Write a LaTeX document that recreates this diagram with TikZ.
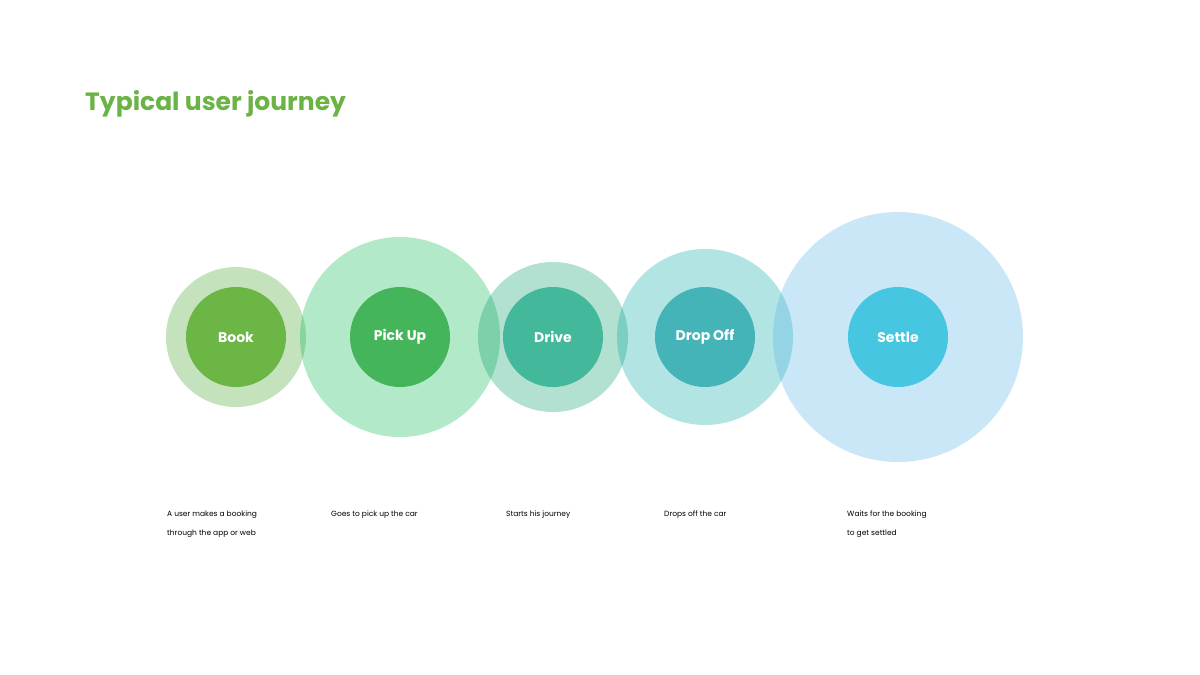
\documentclass[tikz,border=0pt]{standalone}
\usepackage{fontspec}
\setmainfont{Poppins}
\definecolor{tgreen}{HTML}{6AB344}
\begin{document}
\begin{tikzpicture}[x=1pt,y=-1pt,
  halo/.style={circle,fill opacity=0.3,inner sep=0pt,minimum size=#1},
  core/.style={circle,inner sep=0pt,minimum size=100pt,text=white,font=\bfseries\fontsize{14}{16}\selectfont},
  desc/.style={anchor=north west,align=left,inner sep=0pt,font=\fontsize{7.5}{18.5}\selectfont}]
\useasboundingbox (0,0) rectangle (1200,675);
\node[anchor=base west,inner sep=0pt,text=tgreen,font=\bfseries\fontsize{25}{30}\selectfont] (title) at (85,110) {Typical user journey};
\node[halo=140pt,fill=tgreen!70!green!80!black] (hb) at (236,337) {};
\node[halo=200pt,fill=green!60!black!70!cyan] (hp) at (400,337) {};
\node[halo=150pt,fill=teal!80!green] (hd) at (553,337) {};
\node[halo=176pt,fill=teal!70!cyan] (ho) at (705,337) {};
\node[halo=250pt,fill=cyan!80!blue!70!white] (hs) at (898,337) {};
\node[core,fill={rgb,255:red,107;green,182;blue,68}] (book) at (236,337) {Book};
\node[core,fill={rgb,255:red,69;green,181;blue,92}] (pick) at (400,337) {Pick Up};
\node[core,fill={rgb,255:red,68;green,184;blue,154}] (drive) at (553,337) {Drive};
\node[core,fill={rgb,255:red,69;green,180;blue,184}] (drop) at (705,337) {Drop Off};
\node[core,fill={rgb,255:red,71;green,198;blue,226}] (settle) at (898,337) {Settle};
\node[desc] (d1) at (167,511) {A user makes a booking\\through the app or web};
\node[desc] (d2) at (331,511) {Goes to pick up the car};
\node[desc] (d3) at (506,511) {Starts his journey};
\node[desc] (d4) at (664,511) {Drops off the car};
\node[desc] (d5) at (847,511) {Waits for the booking\\to get settled};
\end{tikzpicture}
\end{document}
